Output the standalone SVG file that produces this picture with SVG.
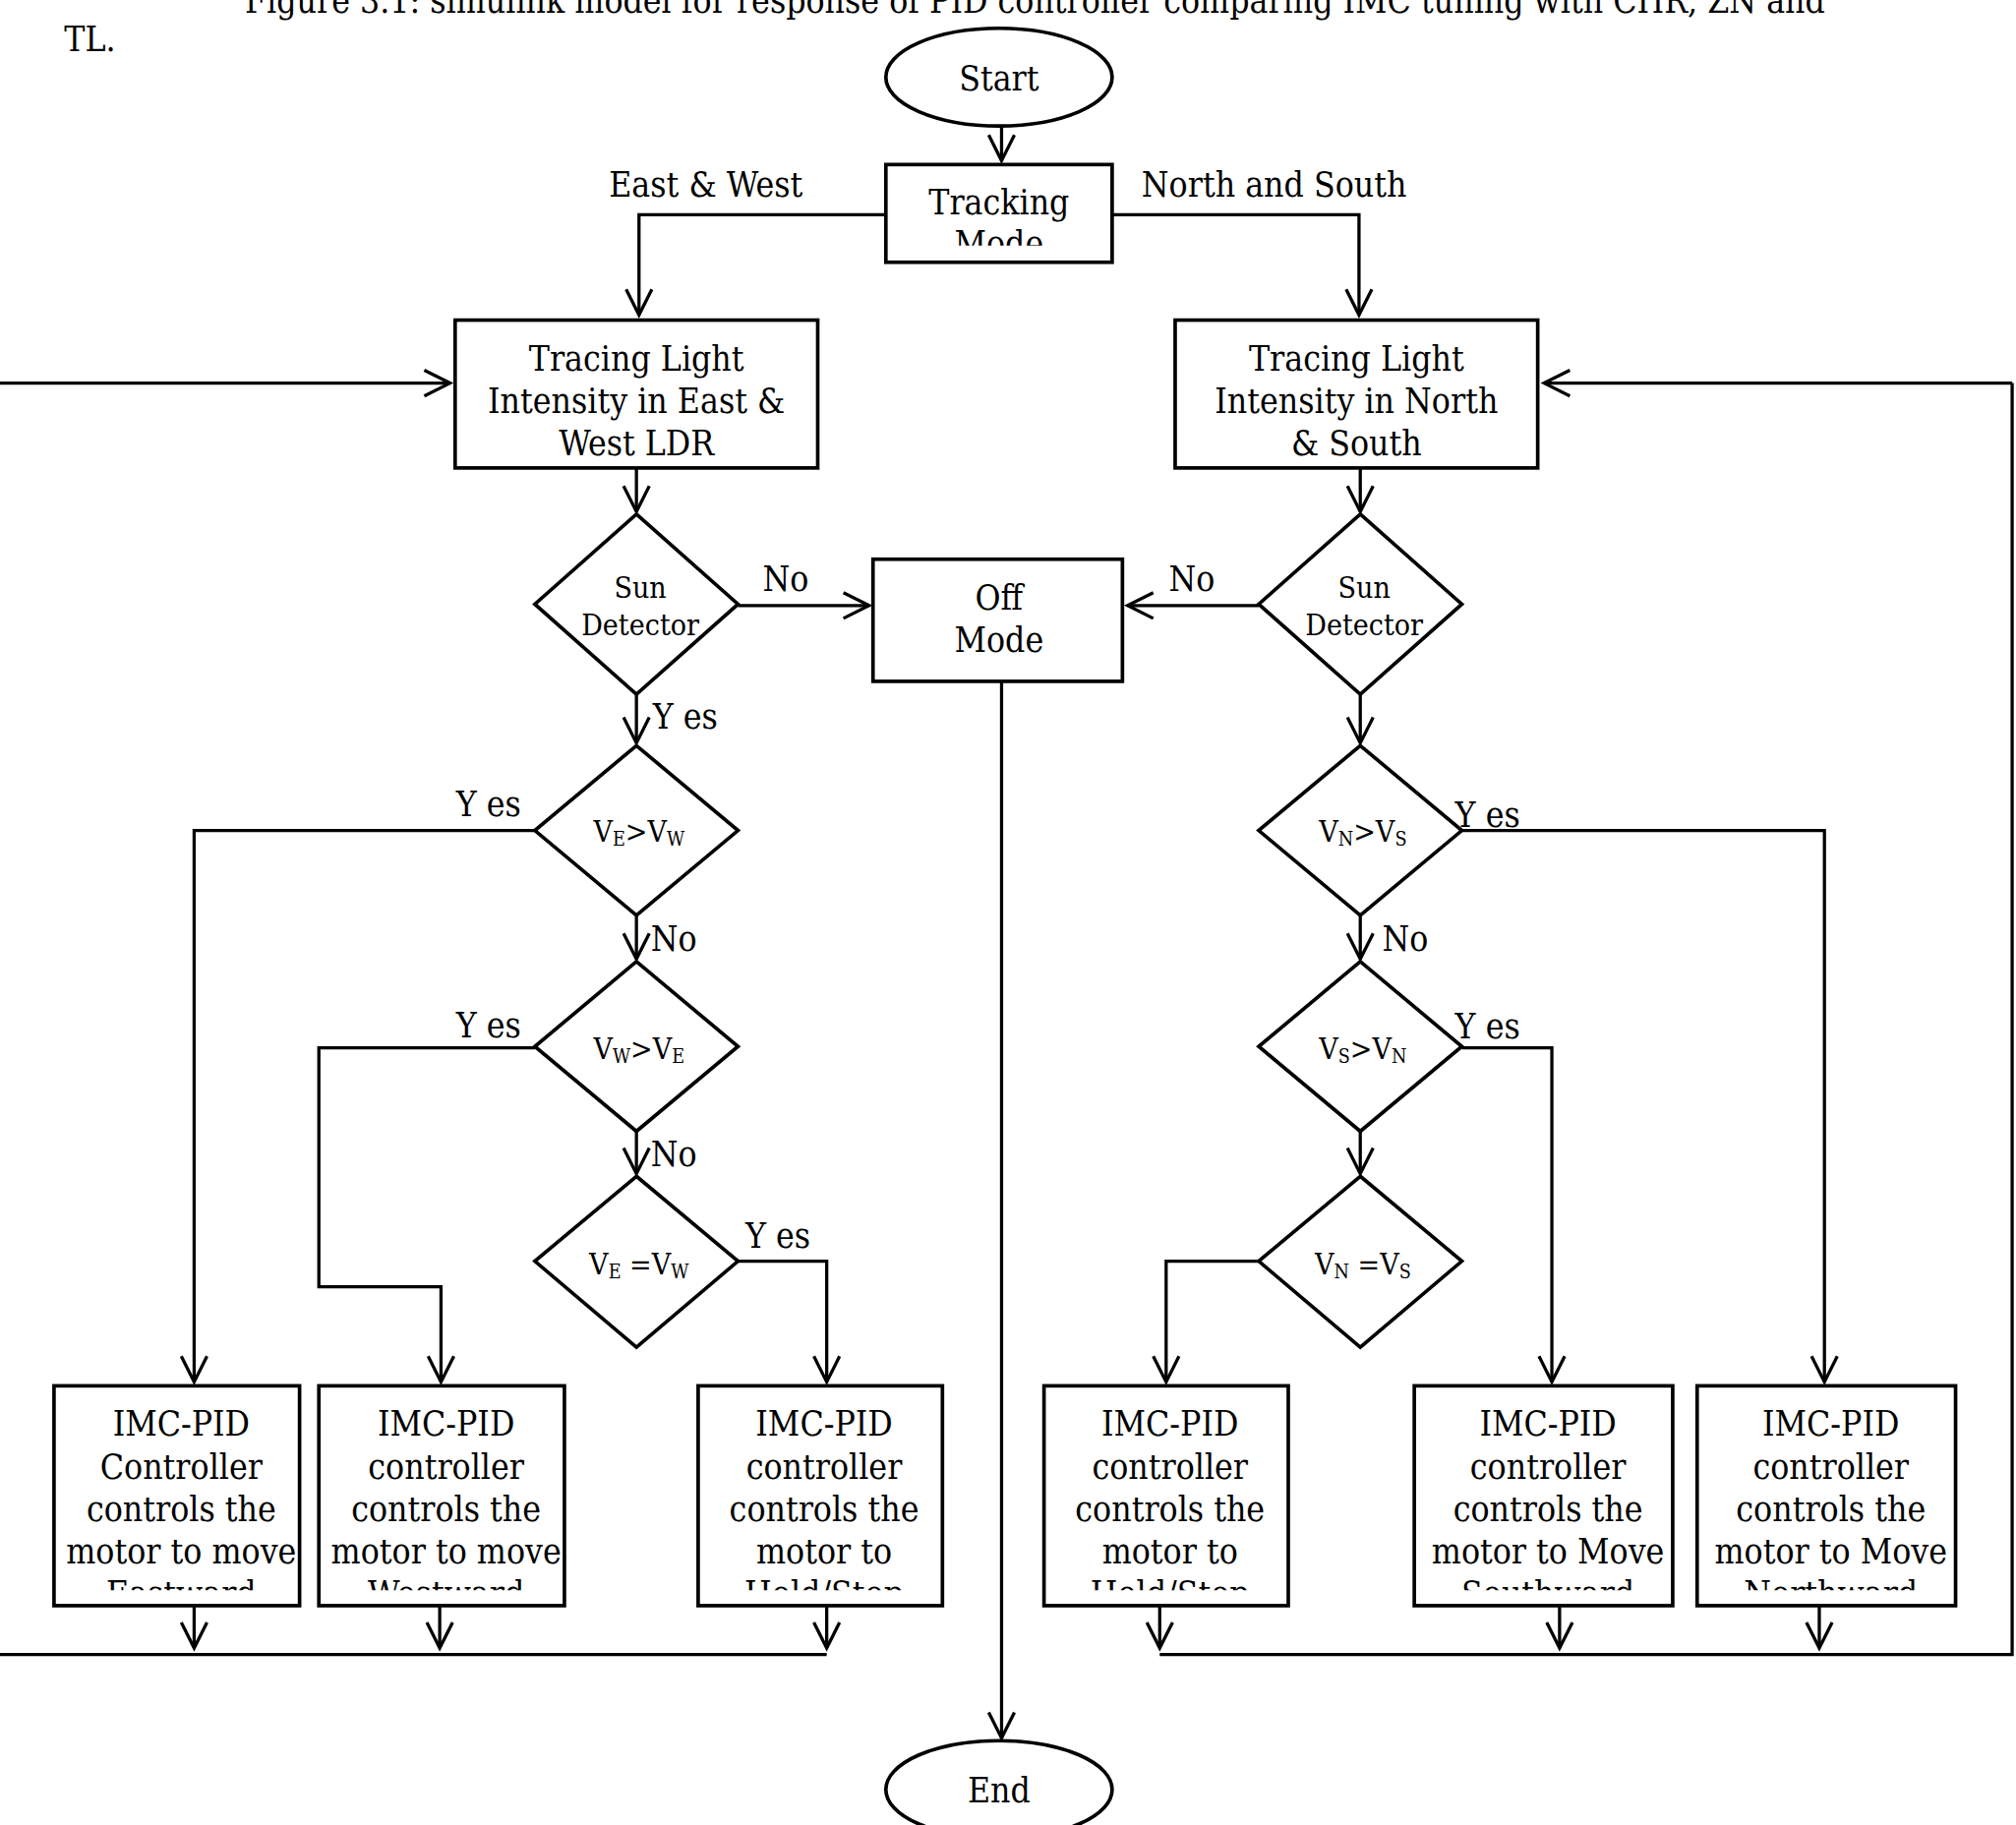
<svg xmlns="http://www.w3.org/2000/svg" width="2050" height="1856" viewBox="0 0 2050 1856">
<style>
text{font-family:"DejaVu Serif","Liberation Serif",serif;font-stretch:condensed;fill:#000;text-anchor:middle}
.t{font-size:27px}
.d{font-size:23px}
.s{font-size:15px;baseline-shift:-3px}
.n rect,.n ellipse,.n polygon{fill:#fff;stroke:#000;stroke-width:2.8}
.c path{fill:none;stroke:#000;stroke-width:2.5}
.a{marker-end:url(#ar)}
</style>
<defs>
<marker id="ar" markerUnits="userSpaceOnUse" markerWidth="30" markerHeight="30" refX="22" refY="12" orient="auto" viewBox="0 0 30 24">
<path d="M2,2 L22,12 L2,22" fill="none" stroke="#000" stroke-width="2.5"/>
</marker>
<clipPath id="c1"><rect x="689" y="128" width="176" height="63"/></clipPath>
<clipPath id="c2"><rect x="354" y="249" width="842" height="106"/></clipPath>
<clipPath id="c3"><rect x="0" y="1078" width="1568" height="159"/></clipPath>
</defs>
<rect width="2050" height="1856" fill="#fff"/>
<g transform="scale(1.3074)">
<text class="t" x="805" y="10">Figure 3.1: simulink model for response of PID controller comparing IMC tuning with CHR, ZN and</text>
<text class="t" x="70" y="40">TL.</text>
<g class="c" id="connectors">
<path class="a" d="M779,98 V125"/>
<path class="a" d="M689,167 H497 V245"/>
<path class="a" d="M865,167 H1057 V245"/>
<path class="a" d="M0,298 H350"/>
<path class="a" d="M1565,298 H1201"/>
<path d="M1565,298 V1287 H902"/>
<path d="M0,1287 H643"/>
<path class="a" d="M495,364 V398"/>
<path class="a" d="M1058,364 V398"/>
<path class="a" d="M574,471 H676"/>
<path class="a" d="M979,471 H877"/>
<path class="a" d="M779,530 V1352"/>
<path class="a" d="M495,540 V578"/>
<path class="a" d="M1058,540 V578"/>
<path class="a" d="M416,646 H151 V1075"/>
<path class="a" d="M495,712 V746"/>
<path class="a" d="M416,815 H248 V1001 H343 V1075"/>
<path class="a" d="M495,880 V913"/>
<path class="a" d="M574,981 H643 V1075"/>
<path class="a" d="M1137,646 H1419 V1075"/>
<path class="a" d="M1058,712 V746"/>
<path class="a" d="M1137,815 H1207 V1075"/>
<path class="a" d="M1058,880 V913"/>
<path class="a" d="M979,981 H907 V1075"/>
<path class="a" d="M151,1249 V1282"/>
<path class="a" d="M342,1249 V1282"/>
<path class="a" d="M643,1249 V1282"/>
<path class="a" d="M902,1249 V1282"/>
<path class="a" d="M1213,1249 V1282"/>
<path class="a" d="M1415,1249 V1282"/>
</g>
<g id="labels" class="t">
<text x="549" y="153">East &amp; West</text>
<text x="991" y="153">North and South</text>
<text x="611" y="460">No</text>
<text x="927" y="460">No</text>
<text x="533" y="567">Y es</text>
<text x="380" y="635">Y es</text>
<text x="524" y="740">No</text>
<text x="380" y="807">Y es</text>
<text x="524" y="907">No</text>
<text x="605" y="971">Y es</text>
<text x="1157" y="643">Y es</text>
<text x="1093" y="740">No</text>
<text x="1157" y="808">Y es</text>
</g>
<g class="n" id="start"><ellipse cx="777" cy="60" rx="88" ry="38"/><text class="t" x="777" y="70">Start</text></g>
<g class="n" id="tracking"><rect x="689" y="128" width="176" height="76"/><g clip-path="url(#c1)"><text class="t" x="777" y="167">Tracking</text><text class="t" x="777" y="199">Mode</text></g></g>
<g class="n" id="traceEW"><rect x="354" y="249" width="282" height="115"/><g clip-path="url(#c2)"><text class="t" x="495" y="288">Tracing Light</text><text class="t" x="495" y="321">Intensity in East &amp;</text><text class="t" x="495" y="354">West LDR</text></g></g>
<g class="n" id="traceNS"><rect x="914" y="249" width="282" height="115"/><g clip-path="url(#c2)"><text class="t" x="1055" y="288">Tracing Light</text><text class="t" x="1055" y="321">Intensity in North</text><text class="t" x="1055" y="354">&amp; South</text></g></g>
<g class="n" id="sunL"><polygon points="495,400 574,470 495,540 416,470"/><text class="d" x="498" y="465">Sun</text><text class="d" x="498" y="494">Detector</text></g>
<g class="n" id="sunR"><polygon points="1058,400 1137,470 1058,540 979,470"/><text class="d" x="1061" y="465">Sun</text><text class="d" x="1061" y="494">Detector</text></g>
<g class="n" id="off"><rect x="679" y="435" width="194" height="95"/><text class="t" x="777" y="474">Off</text><text class="t" x="777" y="507">Mode</text></g>
<g class="n" id="end"><ellipse cx="777" cy="1392" rx="88" ry="38"/><text class="t" x="777" y="1402">End</text></g>
<g class="n" id="d1"><polygon points="495,580 574,646 495,712 416,646"/><text class="d" x="497" y="655">V<tspan class="s">E</tspan>&gt;V<tspan class="s">W</tspan></text></g>
<g class="n" id="d2"><polygon points="495,748 574,814 495,880 416,814"/><text class="d" x="497" y="824">V<tspan class="s">W</tspan>&gt;V<tspan class="s">E</tspan></text></g>
<g class="n" id="d3"><polygon points="495,915 574,981 495,1048 416,981"/><text class="d" x="497" y="991">V<tspan class="s">E</tspan> =V<tspan class="s">W</tspan></text></g>
<g class="n" id="d4"><polygon points="1058,580 1137,646 1058,712 979,646"/><text class="d" x="1060" y="655">V<tspan class="s">N</tspan>&gt;V<tspan class="s">S</tspan></text></g>
<g class="n" id="d5"><polygon points="1058,748 1137,814 1058,880 979,814"/><text class="d" x="1060" y="824">V<tspan class="s">S</tspan>&gt;V<tspan class="s">N</tspan></text></g>
<g class="n" id="d6"><polygon points="1058,915 1137,981 1058,1048 979,981"/><text class="d" x="1060" y="991">V<tspan class="s">N</tspan> =V<tspan class="s">S</tspan></text></g>
<g class="n" id="b1"><rect x="42" y="1078" width="191" height="171"/><g clip-path="url(#c3)" class="t"><text x="141" y="1117">IMC-PID</text><text x="141" y="1150">Controller</text><text x="141" y="1183">controls the</text><text x="141" y="1216">motor to move</text><text x="141" y="1249">Eastward</text></g></g>
<g class="n" id="b2"><rect x="248" y="1078" width="191" height="171"/><g clip-path="url(#c3)" class="t"><text x="347" y="1117">IMC-PID</text><text x="347" y="1150">controller</text><text x="347" y="1183">controls the</text><text x="347" y="1216">motor to move</text><text x="347" y="1249">Westward</text></g></g>
<g class="n" id="b3"><rect x="543" y="1078" width="190" height="171"/><g clip-path="url(#c3)" class="t"><text x="641" y="1117">IMC-PID</text><text x="641" y="1150">controller</text><text x="641" y="1183">controls the</text><text x="641" y="1216">motor to</text><text x="641" y="1249">Hold/Stop</text></g></g>
<g class="n" id="b4"><rect x="812" y="1078" width="190" height="171"/><g clip-path="url(#c3)" class="t"><text x="910" y="1117">IMC-PID</text><text x="910" y="1150">controller</text><text x="910" y="1183">controls the</text><text x="910" y="1216">motor to</text><text x="910" y="1249">Hold/Stop</text></g></g>
<g class="n" id="b5"><rect x="1100" y="1078" width="201" height="171"/><g clip-path="url(#c3)" class="t"><text x="1204" y="1117">IMC-PID</text><text x="1204" y="1150">controller</text><text x="1204" y="1183">controls the</text><text x="1204" y="1216">motor to Move</text><text x="1204" y="1249">Southward</text></g></g>
<g class="n" id="b6"><rect x="1320" y="1078" width="201" height="171"/><g clip-path="url(#c3)" class="t"><text x="1424" y="1117">IMC-PID</text><text x="1424" y="1150">controller</text><text x="1424" y="1183">controls the</text><text x="1424" y="1216">motor to Move</text><text x="1424" y="1249">Northward</text></g></g>
</g>
</svg>
